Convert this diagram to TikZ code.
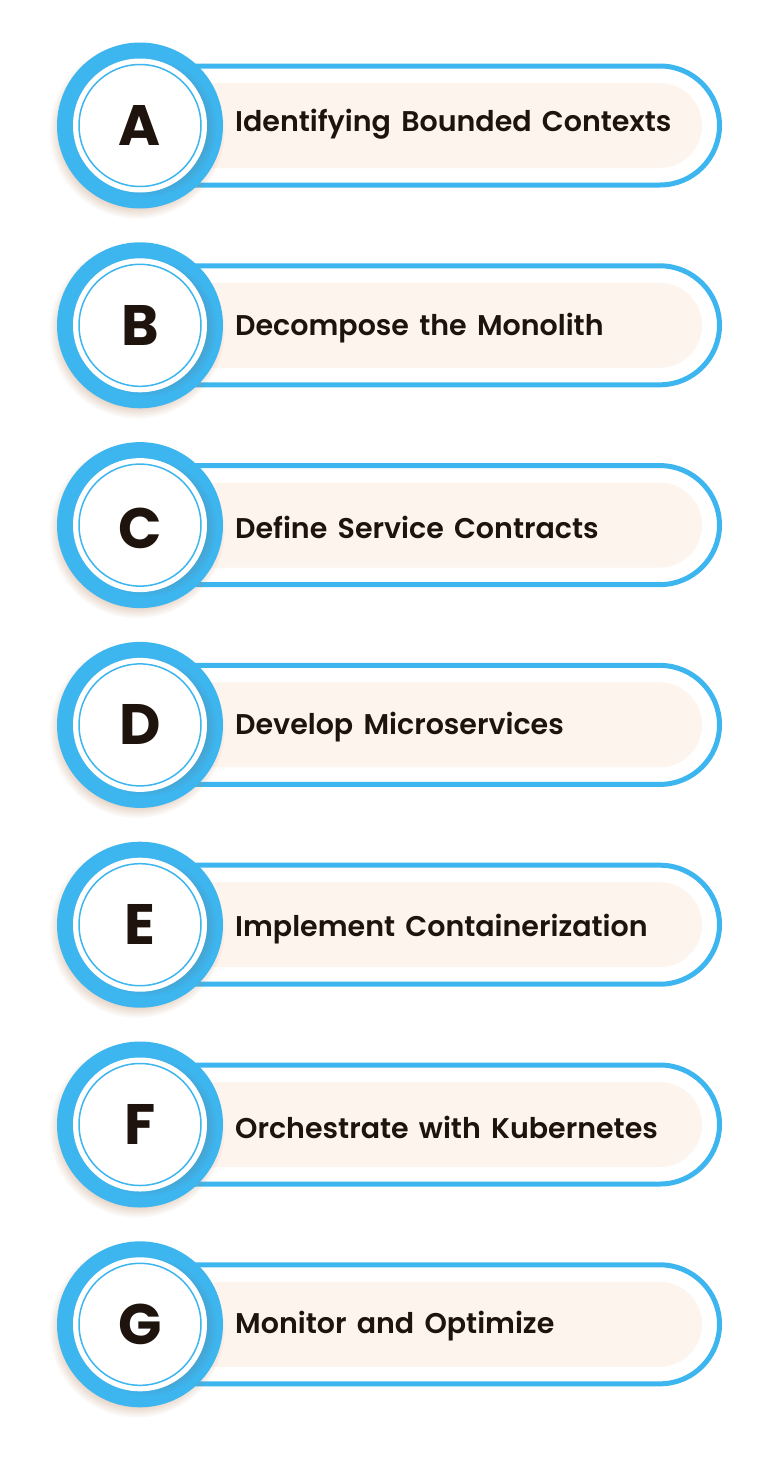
\documentclass[tikz,border=0pt]{standalone}
\usepackage{fontspec}
\setmainfont{Poppins}
\newfontfamily\popsemi{Poppins SemiBold}
\usetikzlibrary{shadows,fadings}
\definecolor{skyb}{HTML}{3DB6F0}
\definecolor{cream}{HTML}{FDF4EE}
\definecolor{ink}{HTML}{1F130D}
\definecolor{shadebrown}{HTML}{B07A50}
\newcommand\widesp{\spaceskip=0.36em plus 0.1em\relax}
\tikzset{
  pillline/.style={draw=skyb, line width=5pt, fill=white},
  pillfill/.style={fill=cream},
  bluedisc/.style={circle, inner sep=0pt, minimum size=166pt, fill=skyb,
    circular drop shadow={shadow xshift=-3pt, shadow yshift=-5pt, shadow scale=1.06, fill=shadebrown, opacity=.35}},
  whitedisc/.style={circle, inner sep=0pt, minimum size=134pt, fill=white,
    circular drop shadow={shadow xshift=7pt, shadow yshift=-2pt, shadow scale=1.04, fill=black!60, opacity=.22}},
  thinring/.style={circle, inner sep=0pt, minimum size=122pt, draw=skyb, line width=1.5pt},
  letter/.style={anchor=base, text=ink, inner sep=0pt, font=\fontsize{57}{57}\selectfont\bfseries},
  label/.style={anchor=base west, text=ink, inner sep=0pt, font=\popsemi\fontsize{28.5}{30}\selectfont}
}
\begin{document}
\begin{tikzpicture}[x=1pt,y=-1pt]
\useasboundingbox (0,0) rectangle (768,1459);
\fill[white] (0,0) rectangle (768,1459);
\foreach \L/\T/\ly/\ty [count=\i from 0] in {A/Identifying Bounded Contexts/0/6.2, B/Decompose the Monolith/0/9.7, C/Define Service Contracts/3/13.5, D/Develop Microservices/0/10, E/Implement Containerization/0/12, F/Orchestrate with Kubernetes/0/13.8, G/Monitor and Optimize/0/8.8}{
  \pgfmathsetmacro\cy{125.5+199.8*\i}
  \draw[pillline] (140,\cy-59.5) -- (660,\cy-59.5) arc[start angle=-90, end angle=90, radius=59.5] -- (140,\cy+59.5);
  \fill[pillfill] (140,\cy-42.5) -- (659.5,\cy-42.5) arc[start angle=-90, end angle=90, radius=42.5] -- (140,\cy+42.5) -- cycle;
  \node[bluedisc] (b\i) at (140,\cy) {};
  \node[whitedisc] (w\i) at (140,\cy) {};
  \node[thinring] (r\i) at (140,\cy) {};
  \node[letter] (l\i) at (140,\cy+20+\ly) {\L};
  \node[label] (t\i) at (235,\cy+\ty) {\widesp\T};
}
\end{tikzpicture}
\end{document}
